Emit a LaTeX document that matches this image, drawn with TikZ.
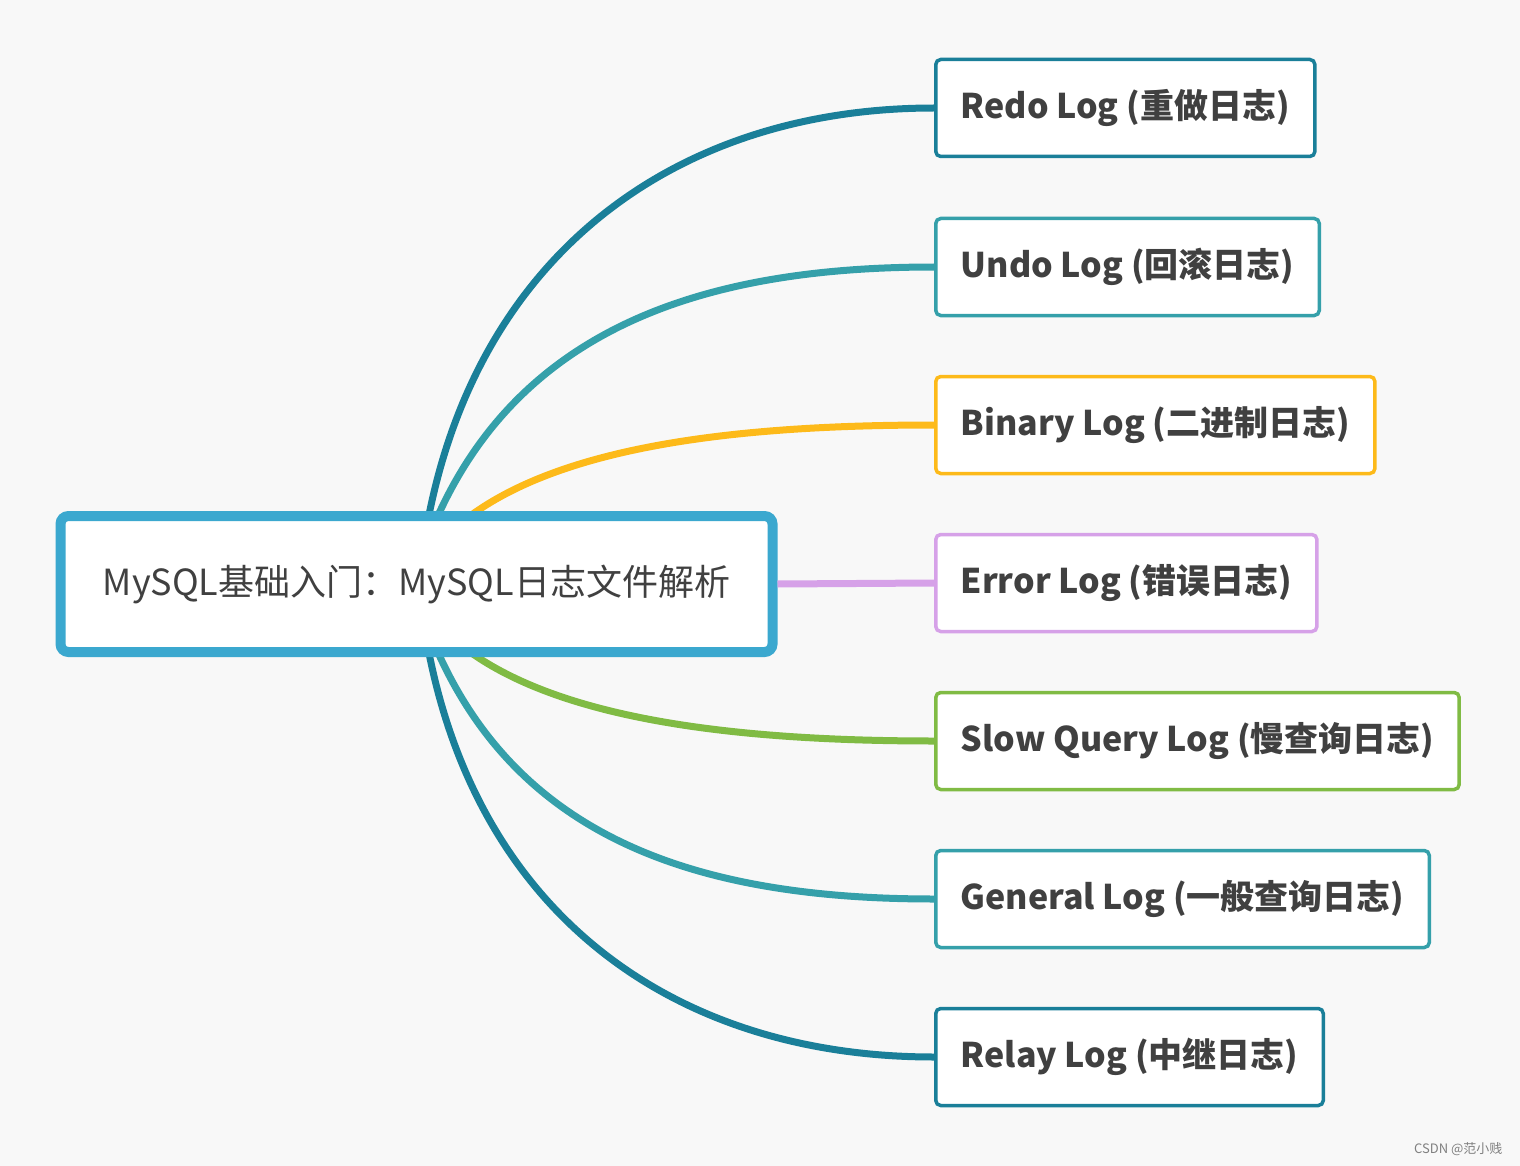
\documentclass[tikz,border=0pt]{standalone}
\usepackage{fontspec}
\setmainfont{Noto Sans CJK SC}
\usetikzlibrary{positioning}
\definecolor{bgc}{HTML}{F8F8F8}
\definecolor{rootc}{HTML}{3BA8CF}
\definecolor{darkc}{HTML}{1A7F99}
\definecolor{tealc}{HTML}{35A0AA}
\definecolor{yellowc}{HTML}{FDBA1A}
\definecolor{violetc}{HTML}{D6A1E8}
\definecolor{greenc}{HTML}{80BB44}
\definecolor{textc}{HTML}{404040}
\tikzset{
    rootnode/.style={draw=rootc, line width=10pt, rounded corners=8pt, fill=white,
                     minimum width=712pt, minimum height=136pt,
                     font=\fontsize{36}{42}\selectfont, text=textc},
    leaf/.style={draw=#1, line width=3.5pt, rounded corners=5pt, fill=white,
                 anchor=west, minimum height=97pt, inner xsep=25pt,
                 font=\fontsize{34}{40}\selectfont\bfseries, text=textc},
    branch/.style={draw=#1, line width=7pt}
}
\begin{document}
\begin{tikzpicture}[x=1pt,y=-1pt]
  \fill[bgc] (0,0) rectangle (1520,1166);
  \useasboundingbox (0,0) rectangle (1520,1166);
  % leaves
  \node[leaf=darkc]   (redo)  at (934,108)  {Redo Log (重做日志)};
  \node[leaf=tealc]   (undo)  at (934,267)  {Undo Log (回滚日志)};
  \node[leaf=yellowc] (bin)   at (934,425)  {Binary Log (二进制日志)};
  \node[leaf=violetc] (err)   at (934,583)  {Error Log (错误日志)};
  \node[leaf=greenc]  (slow)  at (934,741)  {Slow Query Log (慢查询日志)};
  \node[leaf=tealc]   (gen)   at (934,899)  {General Log (一般查询日志)};
  \node[leaf=darkc]   (relay) at (934,1057) {Relay Log (中继日志)};
  % branch start points
  \coordinate (s1) at (428,520);
  \coordinate (s2) at (436,520);
  \coordinate (s3) at (470,516);
  \coordinate (s5) at (470,652);
  \coordinate (s6) at (436,648);
  \coordinate (s7) at (428,648);
  \draw[branch=darkc]   (s1) .. controls (480,250) and (680,108) .. (redo.west);
  \draw[branch=tealc]   (s2) .. controls (520,330) and (700,267) .. (undo.west);
  \draw[branch=yellowc] (s3) .. controls (560,450) and (720,425) .. (bin.west);
  \draw[branch=greenc]  (s5) .. controls (560,716) and (720,741) .. (slow.west);
  \draw[branch=tealc]   (s6) .. controls (520,840) and (700,899) .. (gen.west);
  \draw[branch=darkc]   (s7) .. controls (480,920) and (680,1057) .. (relay.west);
  % root
  \node[rootnode] (root) at (416.5,584) {MySQL基础入门：MySQL日志文件解析};
  \draw[branch=violetc] (root.east) -- (err.west);
  \node[font=\fontsize{13}{15}\selectfont, text=gray, anchor=east] (mark) at (1506,1149) {CSDN @范小贱};
\end{tikzpicture}
\end{document}
